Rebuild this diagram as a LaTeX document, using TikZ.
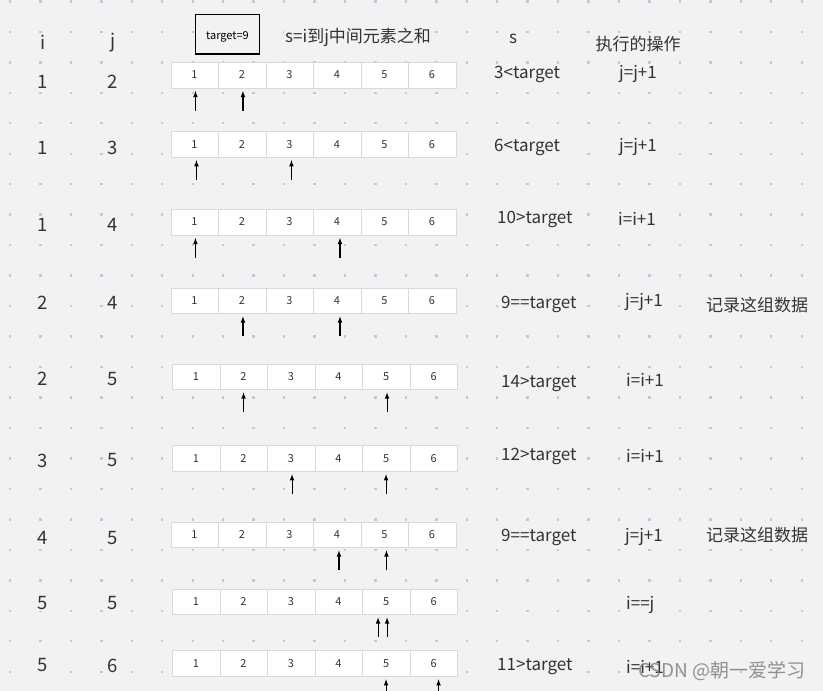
\documentclass[tikz,border=0pt]{standalone}
\usepackage{fontspec}
\setmainfont{Noto Sans CJK SC}
\usepackage{tikz}
\usetikzlibrary{arrows,calc}

\definecolor{hinter}{HTML}{F2F2F4}
\definecolor{punkt}{HTML}{C8C8CC}
\definecolor{schrift}{HTML}{333333}
\definecolor{rahmen}{HTML}{D9D9D9}

\begin{document}
\begin{tikzpicture}[x=1pt,y=-1pt,
  zelle/.style={draw=rahmen,fill=white,minimum width=47.5pt,minimum height=25.5pt,
    inner sep=0pt,font=\fontsize{11}{13}\selectfont,text=schrift},
  nr/.style={font=\fontsize{18.5}{22}\selectfont,text=schrift,fill=hinter,inner sep=1pt,yshift=-1.5pt},
  txt/.style={font=\fontsize{17}{20}\selectfont,text=schrift,fill=hinter,inner sep=1pt,anchor=west,yshift=-2pt},
  zeiger/.style={->,>=latex,line width=1.1pt}]
\fill[hinter] (0,0) rectangle (823,691);
\useasboundingbox (0,0) rectangle (823,691);
% dot grid
\foreach \a in {0,...,26}
  \foreach \b in {0,...,22}
    \fill[punkt] ({10+30.45*\a-1.2},{1.4+30.47*\b-1.2}) rectangle ++(2.4,2.4);
% header
\node[nr] (hi) at (43,41) {i};
\node[nr] (hj) at (113,41) {j};
\node[draw,line width=1.3pt,fill=hinter,minimum width=64.4pt,minimum height=39.3pt,
  text height=10pt,text depth=0pt,font=\fontsize{11}{13}\selectfont] (ziel) at (227.5,34.3) {target=9};
\node[txt] (summe) at (284,35) {s=i到j中间元素之和};
\node[txt,anchor=center] (hs) at (513,37) {s};
\node[txt,anchor=center] (hop) at (638,41.7) {执行的操作};
% rows: i, j and the array
\foreach \n/\i/\j/\x/\y/\yl in {1/1/2/170.7/75/80,2/1/3/170.7/144.2/146.7,
    3/1/4/170.7/222/223,4/2/4/170.7/300.5/301.7,5/2/5/172.3/376.5/377.3,
    6/3/5/172.3/458.3/459,7/4/5/170.7/534.5/536.7,8/5/5/172.3/601.5/602,
    9/5/6/172.3/663.3/664}{
  \node[nr] (i\n) at (43,\yl) {\i};
  \node[nr] (j\n) at (113,\yl) {\j};
  \foreach \k in {1,...,6}
    \node[zelle] (r\n-\k) at ({\x+47.5*(\k-0.5)},\y) {\k};
}
% pointers
\foreach \c/\d in {r1-1/1,r1-2/1,r2-1/2,r2-3/2,r3-1/1,r3-4/3,r4-2/1,r4-4/3,
    r5-2/0,r5-5/1,r6-3/1,r6-5/0,r7-4/2,r7-5/2,r8-5/-8,r8-5/1,r9-5/0,r9-6/5}
  \draw[zeiger] ([xshift=\d,yshift=-23]\c.south) -- ([xshift=\d,yshift=-3]\c.south);
% sums
\foreach \n/\t/\x/\y in {1/3<target/493/72,2/6<target/493/145,3/10>target/496/217,
    4/9==target/500/302,5/14>target/500/381.7,6/12>target/500/454,
    7/9==target/500/535,9/11>target/496/665}
  \node[txt] (s\n) at (\x,\y) {\t};
% operations
\foreach \n/\t/\x/\y in {1/j=j+1/618/72,2/j=j+1/618/145,3/i=i+1/617/217,
    4/j=j+1/624/300,5/i=i+1/625/378,6/i=i+1/625/454,7/j=j+1/624/535,
    8/i==j/625/603,9/i=i+1/625/665}
  \node[txt] (op\n) at (\x,\y) {\t};
\node[txt] (rec4) at (705,303) {记录这组数据};
\node[txt] (rec7) at (705,533) {记录这组数据};
\node[anchor=west,inner sep=0pt,font=\fontsize{19}{22}\selectfont,text=gray,opacity=0.85]
  (wm) at (638,671) {CSDN @朝一爱学习};
\end{tikzpicture}
\end{document}
